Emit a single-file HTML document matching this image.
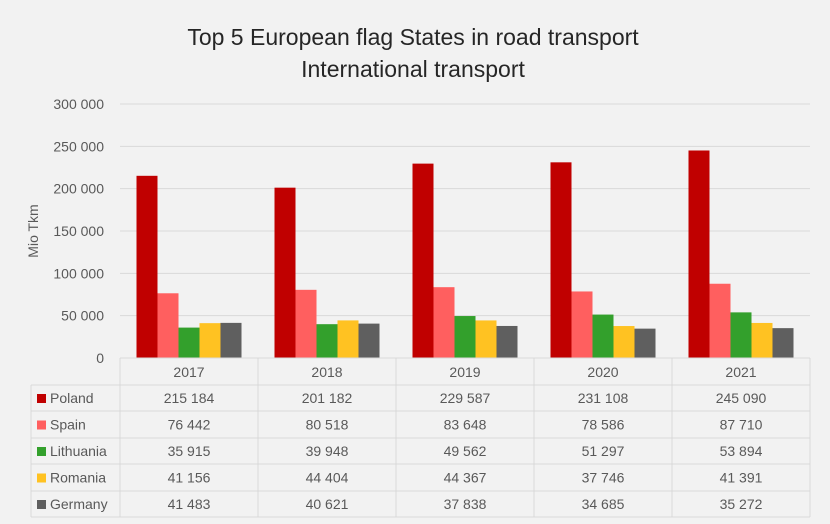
<!DOCTYPE html>
<html><head><meta charset="utf-8"><style>
body{margin:0;background:#fff;}
svg{display:block;font-family:"Liberation Sans",sans-serif;}
</style></head><body>
<svg width="830" height="524">
<rect x="0" y="0" width="830" height="524" fill="#f2f2f2"/>
<text x="413" y="45" font-size="23" fill="#262626" text-anchor="middle">Top 5 European flag States in road transport</text>
<text x="413" y="77" font-size="23" fill="#262626" text-anchor="middle">International transport</text>
<text transform="translate(38,231) rotate(-90)" font-size="14" fill="#595959" text-anchor="middle">Mio Tkm</text>
<g id="grid"></g><g id="bars"></g><g id="table"></g>
</svg>
<script>
const years=["2017","2018","2019","2020","2021"];
const seriesNames=["Poland","Spain","Lithuania","Romania","Germany"];
const poland=[215184,201182,229587,231108,245090];
const spain=[76442,80518,83648,78586,87710];
const lithuania=[35915,39948,49562,51297,53894];
const romania=[41156,44404,44367,37746,41391];
const germany=[41483,40621,37838,34685,35272];
const yTicks=[0,50000,100000,150000,200000,250000,300000];
const colors=["#c00000","#ff5f5f","#33a02c","#ffc222","#5f5f5f"];
const series=[poland,spain,lithuania,romania,germany];
const NS="http://www.w3.org/2000/svg";
const x0=120,cw=138,y0=358,yTop=104,yMax=300000;
const y=v=>y0-(v/yMax)*(y0-yTop);
const fmt=v=>String(v).replace(/\B(?=(\d{3})+(?!\d))/g," ");
function mk(tag,attrs,parent,txt){const e=document.createElementNS(NS,tag);for(const k in attrs)e.setAttribute(k,attrs[k]);if(txt!==undefined)e.textContent=txt;document.getElementById(parent).appendChild(e);return e;}
yTicks.forEach(t=>{
  if(t>0){const l=mk("line",{x1:x0,x2:x0+cw*5,y1:y(t),y2:y(t),stroke:"#d9d9d9"},"grid");
  
  }
  const tx=mk("text",{x:104,y:y(t)+5,"font-size":14,fill:"#595959","text-anchor":"end"},"grid",fmt(t));
  
  
});
const bw=21,gap=(cw-bw*5)/2;
years.forEach((yr,i)=>{
  series.forEach((s,j)=>{
    const r=mk("rect",{x:x0+i*cw+gap+j*bw,y:y(s[i]),width:bw,height:y0-y(s[i]),fill:colors[j]},"bars");
    
    
  });
});
// table
const rowY=[358,385,411,438,464,491,517];
const tl=31;
function line(x1,y1,x2,y2){const l=mk("line",{x1,y1,x2,y2,stroke:"#d9d9d9"},"table");}
for(let k=0;k<=5;k++)line(x0+k*cw,358,x0+k*cw,517);
line(tl,385,tl,517);
line(x0,358,x0+5*cw,358);
for(let r=1;r<rowY.length;r++)line(tl,rowY[r],x0+5*cw,rowY[r]);
years.forEach((yr,i)=>{
  const t=mk("text",{x:x0+i*cw+cw/2,y:377,"font-size":14,fill:"#595959","text-anchor":"middle"},"table",yr);
  
  
});
series.forEach((s,j)=>{
  const cy=(rowY[j+1]+rowY[j+2])/2;
  const k=mk("rect",{x:37,y:cy-4,width:9,height:9,fill:colors[j]},"table");
  
  
  const n=mk("text",{x:50,y:cy+5,"font-size":14,fill:"#595959"},"table",seriesNames[j]);
  
  
  s.forEach((v,i)=>{
    const c=mk("text",{x:x0+i*cw+cw/2,y:cy+5,"font-size":14,fill:"#595959","text-anchor":"middle"},"table",fmt(v));
    
    
  });
});
</script>
</body></html>
